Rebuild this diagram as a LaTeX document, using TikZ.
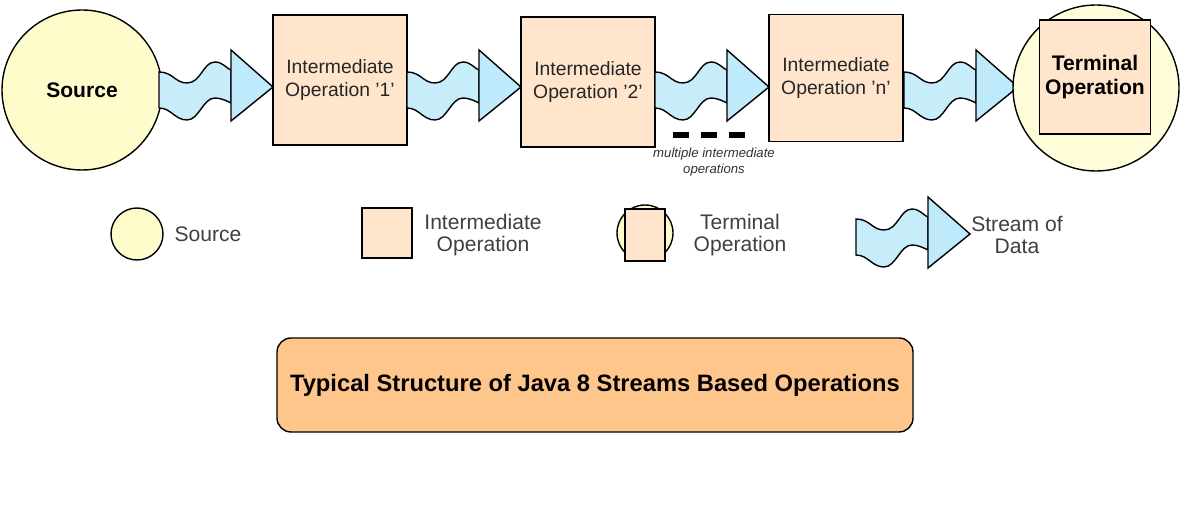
\documentclass[tikz,border=0pt]{standalone}
\usepackage{fontspec}
\setmainfont{Liberation Sans}
\newcommand{\sq}{{\char39}}
\begin{document}
\begin{tikzpicture}[x=0.02cm,y=-0.02cm,
  src/.style={circle,draw,thick,fill=yellow!20,inner sep=0pt},
  op/.style={draw,thick,fill=orange!20,minimum width=134*0.02cm,minimum height=130*0.02cm,align=center,font=\fontsize{11}{13}\selectfont,text=black!85},
  lgtxt/.style={align=center,font=\fontsize{12}{13}\selectfont,text=black!75},
  stream/.pic={
    \filldraw[thick,fill=cyan!22] (-114,-15) .. controls (-100,-15) and (-98,-4) .. (-86,-4)
      .. controls (-72,-4) and (-70,-25) .. (-58,-25) .. controls (-50,-25) and (-46,-18) .. (-42,-17)
      -- (-42,16) .. controls (-46,14) and (-52,11) .. (-58,11)
      .. controls (-70,11) and (-74,33) .. (-86,33) .. controls (-98,33) and (-102,21) .. (-114,21) -- cycle;
    \filldraw[thick,fill=cyan!25] (-42,-37) -- (0,0) -- (-42,34) -- cycle;
  }]
\useasboundingbox (0,0) rectangle (1200,516);
\node[src,minimum size=160*0.02cm,font=\bfseries\fontsize{12}{14}\selectfont] (s) at (82,90) {Source};
\pic at (273,87) {stream};
\node[op] (i1) at (340,80) {Intermediate\\Operation \sq1\sq};
\pic at (521,87) {stream};
\node[op] (i2) at (588,82) {Intermediate\\Operation \sq2\sq};
\pic at (769,87) {stream};
\node[op,minimum height=127*0.02cm] (i3) at (836,78) {Intermediate\\Operation \sq n\sq};
\pic at (1018,87) {stream};
\node[src,minimum size=166*0.02cm,fill=yellow!15] (t) at (1096,88) {};
\node[draw,thick,fill=orange!20,minimum width=110*0.02cm,minimum height=114*0.02cm,align=center,font=\bfseries\fontsize{12}{14}\selectfont] (tb) at (1095,77) {Terminal\\Operation};
\foreach \x in {673,701,729} \draw[line width=3pt] (\x,135) -- (\x+16,135);
\node[font=\itshape\fontsize{7.5}{9}\selectfont,align=center,text=black!80] (mi) at (714,162) {multiple intermediate\\operations};
% legend
\node[src,minimum size=52*0.02cm] (ls) at (137,234) {};
\node[lgtxt] (lst) at (208,234) {Source};
\node[draw,thick,fill=orange!20,minimum width=50*0.02cm,minimum height=50*0.02cm] (li) at (387,233) {};
\node[lgtxt] (lit) at (483,235) {Intermediate\\Operation};
\node[src,minimum size=56*0.02cm] (lt) at (645,233) {};
\node[draw,thick,fill=orange!20,minimum width=40*0.02cm,minimum height=52*0.02cm] (ltb) at (645,235) {};
\node[lgtxt] (ltt) at (740,235) {Terminal\\Operation};
\begin{scope}[shift={(970,234)},xscale=0.84,yscale=0.68]
\pic {stream};
\end{scope}
\node[lgtxt] (lsd) at (1017,235) {Stream of\\Data};
\node[draw,thick,rounded corners=8pt,fill=orange!45,minimum width=636*0.02cm,minimum height=94*0.02cm,font=\bfseries\fontsize{13.5}{15}\selectfont] (title) at (595,385) {Typical Structure of Java 8 Streams Based Operations};
\end{tikzpicture}
\end{document}
